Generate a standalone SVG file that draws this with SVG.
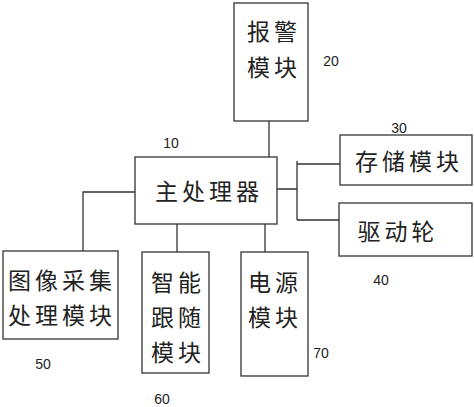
<svg xmlns="http://www.w3.org/2000/svg" width="474" height="407" viewBox="0 0 474 407">
<style>
.box{fill:#fff;stroke:#333;stroke-width:1.3}
.ln{fill:none;stroke:#333;stroke-width:1.3}
.t{font-family:"Noto Sans CJK SC","Noto Sans CJK JP",sans-serif;font-size:23px;fill:#222;text-anchor:middle;dominant-baseline:central;letter-spacing:4px}
.n{font-family:"Liberation Sans","Open Sans",sans-serif;font-size:14px;fill:#222;text-anchor:middle;dominant-baseline:central}
</style>
<rect width="474" height="407" fill="#fff"/>
<g id="connectors">
<path class="ln" d="M269 121V157"/>
<path class="ln" d="M277 189H297M297 161V220M297 164H340M297 220H339"/>
<path class="ln" d="M135 192H83V251"/>
<path class="ln" d="M177 224V252"/>
<path class="ln" d="M265 224V252"/>
</g>
<g id="alarm">
<rect class="box" x="234" y="3" width="74" height="118"/>
<text class="t" x="274" y="30">报警</text>
<text class="t" x="274" y="66">模块</text>
<text class="n" x="331" y="61">20</text>
</g>
<g id="main">
<rect class="box" x="135" y="157" width="142" height="67"/>
<text class="t" x="209" y="190">主处理器</text>
<text class="n" x="171" y="143">10</text>
</g>
<g id="storage">
<rect class="box" x="340" y="135" width="132" height="50"/>
<text class="t" x="409" y="160">存储模块</text>
<text class="n" x="399" y="128">30</text>
</g>
<g id="drive">
<rect class="box" x="339" y="203" width="133" height="53"/>
<text class="t" x="398" y="230">驱动轮</text>
<text class="n" x="381" y="280">40</text>
</g>
<g id="image">
<rect class="box" x="3" y="251" width="115" height="88"/>
<text class="t" x="62" y="279">图像采集</text>
<text class="t" x="62" y="314">处理模块</text>
<text class="n" x="43" y="364">50</text>
</g>
<g id="follow">
<rect class="box" x="142" y="252" width="67" height="121"/>
<text class="t" x="178" y="281">智能</text>
<text class="t" x="178" y="316">跟随</text>
<text class="t" x="178" y="351">模块</text>
<text class="n" x="162" y="399">60</text>
</g>
<g id="power">
<rect class="box" x="241" y="252" width="67" height="124"/>
<text class="t" x="275" y="281">电源</text>
<text class="t" x="275" y="316">模块</text>
<text class="n" x="321" y="353">70</text>
</g>
</svg>
